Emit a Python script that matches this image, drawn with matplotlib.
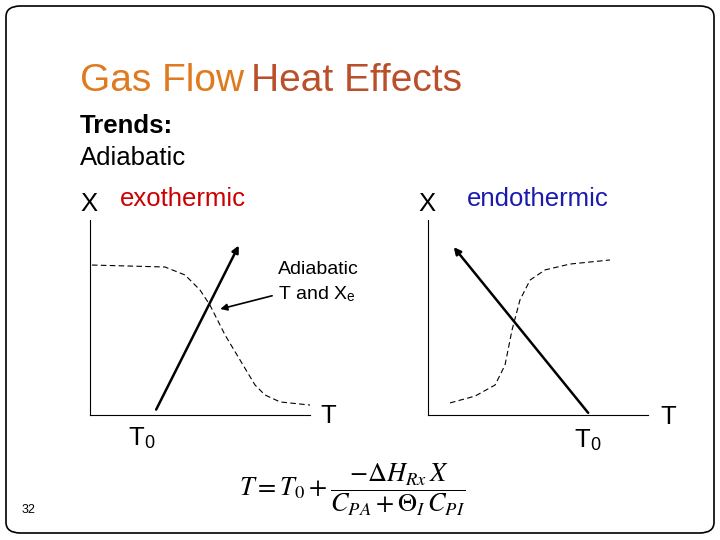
import matplotlib.pyplot as plt
from matplotlib.patches import FancyBboxPatch

plt.rcParams['mathtext.fontset'] = 'stix'

# schematic curves, normalised (T, X) in 0..1
exo_eq_T = [0.009, 0.341, 0.432, 0.5, 0.545, 0.614, 0.682, 0.75, 0.795, 0.864, 1.0]
exo_eq_X = [0.769, 0.759, 0.718, 0.641, 0.564, 0.410, 0.282, 0.154, 0.103, 0.067, 0.051]
exo_line_T = [0.295, 0.682]
exo_line_X = [0.015, 0.882]

endo_eq_T = [0.1, 0.214, 0.305, 0.35, 0.382, 0.418, 0.464, 0.532, 0.645, 0.827]
endo_eq_X = [0.062, 0.097, 0.154, 0.256, 0.436, 0.590, 0.692, 0.744, 0.774, 0.795]
endo_line_T = [0.109, 0.736]
endo_line_X = [0.872, 0.0]

W, H = 720, 540
fig = plt.figure(figsize=(7.2, 5.4), dpi=100)

def px(x, y):
    return x / W, 1 - y / H

def txt(x, y, s, **kw):
    kw.setdefault('family', 'Liberation Sans')
    kw.setdefault('va', 'center')
    fig.text(*px(x, y), s, **kw)

fig.patches.append(FancyBboxPatch(px(6, 533), 708 / W, 527 / H,
                                  boxstyle="round,pad=0,rounding_size=0.02",
                                  transform=fig.transFigure, fill=False,
                                  ec='black', lw=1.2))

txt(80, 81, "Gas Flow", color='#E07A1F', fontsize=28)
txt(251, 81, "Heat Effects", color='#B9502A', fontsize=28)
txt(80, 126, "Trends:", fontsize=18.5, weight='bold')
txt(80, 158, "Adiabatic", fontsize=18.5)
txt(80, 204, "X", fontsize=18.5)
txt(120, 199, "exothermic", fontsize=18.5, color='#CC0000')
txt(418, 204, "X", fontsize=18.5)
txt(467, 199, "endothermic", fontsize=18.5, color='#1A1AB0')

def make_ax(x0):
    ax = fig.add_axes([x0 / W, (H - 415) / H, 220 / W, 195 / H])
    ax.set_xlim(0, 1)
    ax.set_ylim(0, 1)
    for s in ['top', 'right']:
        ax.spines[s].set_visible(False)
    ax.set_xticks([])
    ax.set_yticks([])
    ax.patch.set_alpha(0)
    return ax

ax1 = make_ax(90)
ax1.plot(exo_eq_T, exo_eq_X, 'k--', lw=0.8, dashes=(5, 3))
ax1.annotate('', xy=(exo_line_T[1], exo_line_X[1]), xytext=(exo_line_T[0], exo_line_X[0]),
             arrowprops=dict(arrowstyle='-|>', lw=1.8, color='black', mutation_scale=10))
ax1.annotate('', xy=(0.58, 0.54), xytext=(0.84, 0.615),
             arrowprops=dict(arrowstyle='-|>', lw=1.2, color='black', mutation_scale=10))

ax2 = make_ax(428)
ax2.plot(endo_eq_T, endo_eq_X, 'k--', lw=0.8, dashes=(5, 3))
ax2.annotate('', xy=(endo_line_T[0], endo_line_X[0]), xytext=(endo_line_T[1], endo_line_X[1]),
             arrowprops=dict(arrowstyle='-|>', lw=1.8, color='black', mutation_scale=10))

txt(278, 270, "Adiabatic", fontsize=14)
txt(278, 294, r"T and X$_\mathregular{e}$", fontsize=14)
txt(128, 438, r"T$_\mathregular{0}$", fontsize=18.5)
txt(320, 416, "T", fontsize=18.5)
txt(574, 440, r"T$_\mathregular{0}$", fontsize=18.5)
txt(660, 417, "T", fontsize=18.5)
txt(22, 510, "32", fontsize=9)

txt(352, 490, r'$T = T_0 + \dfrac{-\Delta H_{Rx}\,X}{C_{PA} + \Theta_I\, C_{PI}}$',
    fontsize=19, ha='center', family='DejaVu Sans')

fig.savefig('out.png', dpi=100)
